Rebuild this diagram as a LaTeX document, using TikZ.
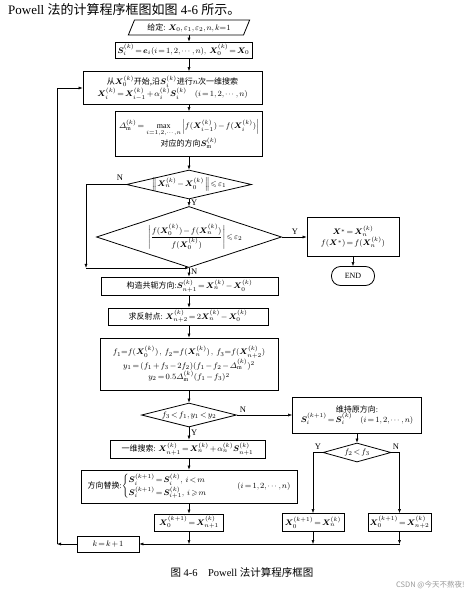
\documentclass[tikz,border=0pt]{standalone}
\usepackage{amsmath,amssymb,bm}
\usepackage{fontspec}
\setmainfont{Liberation Serif}
\newfontfamily\cjk{Noto Sans CJK SC}
\usetikzlibrary{arrows.meta,shapes.geometric}
\newcommand{\zh}[1]{{\cjk #1}}
\newcommand{\Xv}{\bm{X}}
\newcommand{\Sv}{\bm{S}}
\newcommand{\Dm}{\varDelta_{\mathrm{m}}}
\newcommand{\boxfont}{\fontsize{8}{10}\selectfont\thickmuskip=2.5mu plus 1mu\medmuskip=2mu\thinmuskip=2mu}
\tikzset{
  box/.style={draw, line width=0.8pt, inner sep=1pt, align=center, font=\boxfont},
  dia/.style={diamond, draw, line width=0.8pt, inner sep=0pt},
  every label/.append style={font=\boxfont, inner sep=0pt},
  arr/.style={-{Latex[length=4pt,width=3pt]}, line width=0.5pt},
  yn/.style={font=\fontsize{8.5}{9}\selectfont, inner sep=0pt},
}
\begin{document}
\begin{tikzpicture}[x=1pt,y=-1pt]
\useasboundingbox[fill=white] (0,0) rectangle (474,594);
\node[anchor=west, font=\fontsize{13}{15}\selectfont, inner sep=0pt] (title) at (8,10)
  {Powell \zh{法的计算程序框图如图} 4-6 \zh{所示。}};

\node[box, trapezium, trapezium left angle=65, trapezium right angle=115, trapezium stretches=true,
  minimum width=122pt, minimum height=15pt] (give) at (189,27.5)
  {\zh{给定}: $\Xv_0,\varepsilon_1,\varepsilon_2,n,k{=}1$};
\node[box, minimum width=137pt, minimum height=16pt] (b2) at (183.5,50)
  {$\Sv_i^{(k)}=\bm{e}_i(i=1,2,\cdots,n),\ \Xv_0^{(k)}=\Xv_0$};
\node[box, minimum width=179pt, minimum height=33pt] (b3) at (172.5,88)
  {\zh{从}$\Xv_0^{(k)}$\zh{开始,沿}$\Sv_i^{(k)}$\zh{进行}$n$\zh{次一维搜索}\\
   $\Xv_i^{(k)}=\Xv_{i-1}^{(k)}+\alpha_i^{(k)}\Sv_i^{(k)}\quad(i=1,2,\cdots,n)$};
\node[box, minimum width=147pt, minimum height=45pt] (b4) at (189,134)
  {$\Dm^{(k)}=\,\max\limits_{i=1,2,\cdots,n}\left|f(\Xv_{i-1}^{(k)})-f(\Xv_i^{(k)})\right|$\\[1pt]
   \zh{对应的方向}$\Sv_{\mathrm{m}}^{(k)}$};
\node[dia, minimum width=125pt, minimum height=29pt,
  label={center:{$\left\|\,\Xv_n^{(k)}-\Xv_0^{(k)}\,\right\|\leqslant\varepsilon_1$}}] (d1) at (189,184.5) {};
\node[dia, minimum width=185pt, minimum height=61pt,
  label={[xshift=6pt]center:{$\left|\dfrac{f(\Xv_0^{(k)})-f(\Xv_n^{(k)})}{f(\Xv_0^{(k)})}\right|\leqslant\varepsilon_2$}}] (d2) at (189,237) {};
\node[box, minimum width=92pt, minimum height=39pt] (bx) at (353,237)
  {$\Xv^*=\Xv_n^{(k)}$\\ $f(\Xv^*)=f(\Xv_n^{(k)})$};
\node[box, rounded corners=9pt, minimum width=43pt, minimum height=19pt] (end) at (353,276) {END};
\node[box, minimum width=177pt, minimum height=18pt] (b5) at (189.5,286)
  {\zh{构造共轭方向}:$\Sv_{n+1}^{(k)}=\Xv_n^{(k)}-\Xv_0^{(k)}$};
\node[box, minimum width=160pt, minimum height=17pt] (b6) at (188,316.5)
  {\zh{求反射点}: $\Xv_{n+2}^{(k)}=2\Xv_n^{(k)}-\Xv_0^{(k)}$};
\node[box, minimum width=178pt, minimum height=52pt] (b7) at (189,364)
  {$f_1{=}f(\Xv_0^{(k)})\,,\ f_2{=}f(\Xv_n^{(k)})\,,\ f_3{=}f(\Xv_{n+2}^{(k)})$\\
   $y_1=(f_1+f_3-2f_2)(f_1-f_2-\Dm^{(k)})^2$\\
   $y_2=0.5\Dm^{(k)}(f_1-f_3)^2$};
\node[dia, minimum width=95pt, minimum height=24pt,
  label={center:{$f_3<f_1,y_1<y_2$}}] (d3) at (189,415) {};
\node[box, minimum width=129pt, minimum height=36pt] (bk) at (357,415)
  {\zh{维持原方向}:\\ $\Sv_i^{(k+1)}=\Sv_i^{(k)}\quad(i=1,2,\cdots,n)$};
\node[dia, minimum width=68pt, minimum height=19pt,
  label={center:{$f_2<f_3$}}] (d4) at (357,452.5) {};
\node[box, minimum width=155pt, minimum height=18pt] (b8) at (187.5,449)
  {\zh{一维搜索}: $\Xv_{n+1}^{(k)}=\Xv_n^{(k)}+\alpha_n^{(k)}\Sv_{n+1}^{(k)}$};
\node[box, minimum width=216pt, minimum height=33pt] (b9) at (189,486.5)
  {\zh{方向替换}:$\begin{cases}\Sv_i^{(k+1)}=\Sv_i^{(k)},\ i<m\\ \Sv_i^{(k+1)}=\Sv_{i+1}^{(k)},\ i\geqslant m\end{cases}$\hspace{22pt}$(i=1,2,\cdots,n)$};
\node[box, minimum width=69pt, minimum height=17pt] (b10) at (189,522.5)
  {$\Xv_0^{(k+1)}=\Xv_{n+1}^{(k)}$};
\node[box, minimum width=62pt, minimum height=18pt] (b11) at (313,522.5)
  {$\Xv_0^{(k+1)}=\Xv_n^{(k)}$};
\node[box, minimum width=63pt, minimum height=18pt] (b12) at (399.5,522.5)
  {$\Xv_0^{(k+1)}=\Xv_{n+2}^{(k)}$};
\node[box, minimum width=62pt, minimum height=16pt] (kk) at (108,544) {$k=k+1$};

\node[font=\fontsize{10.5}{12}\selectfont] (cap) at (242,572)
  {\zh{图} 4-6\quad Powell \zh{法计算程序框图}};
\node[anchor=east, text=black!40, font=\fontsize{7.5}{9}\selectfont\cjk] (wm) at (468,585)
  {CSDN @今天不熬夜!};

% connectors
\coordinate (ax) at (189,0);
\draw[arr] (give.south) -- (give.south |- b2.north);
\draw[arr] (ax |- b2.south) -- (ax |- b3.north);
\draw[arr] (ax |- b3.south) -- (b4.north);
\draw[arr] (b4.south) -- (d1.north);
\draw[arr] (d1.south) -- (d2.north);
\node[yn, anchor=west] (y1) at (191,203) {Y};
\coordinate (nl) at (86,0);
\draw[arr] (d1.west) -| (nl |- d2.south);
\draw[arr] (nl |- d2.south) -- (d2.south);
\node[yn, anchor=south] (n1) at (120,181) {N};
\draw[arr] (d2.east) -- (bx.west);
\node[yn, anchor=south] (y2) at (295,235) {Y};
\draw[arr] (bx.south) -- (end.north);
\draw[arr] (d2.south) -- (ax |- b5.north);
\node[yn, anchor=west] (n2) at (191,272) {N};
\draw[arr] (ax |- b5.south) -- (ax |- b6.north);
\draw[arr] (ax |- b6.south) -- (ax |- b7.north);
\draw[arr] (ax |- b7.south) -- (d3.north);
\draw[arr] (d3.east) -- (bk.west);
\node[yn, anchor=south] (n3) at (243,413) {N};
\draw[arr] (d3.south) -- (ax |- b8.north);
\node[yn, anchor=west] (y3) at (191,433) {Y};
\draw[arr] (bk.south) -- (d4.north);
\draw[arr] (d4.west) -| (b11.north);
\node[yn, anchor=south] (y4) at (318,450) {Y};
\draw[arr] (d4.east) -| (b12.north);
\node[yn, anchor=south] (n4) at (396,450) {N};
\draw[arr] (ax |- b8.south) -- (ax |- b9.north);
\draw[arr] (ax |- b9.south) -- (b10.north);
\coordinate (bl) at (0,544);
\draw[arr] (b10.south) -- (b10.south |- bl);
\draw[arr] (b11.south) -- (b11.south |- bl);
\draw[arr] (b12.south) -- (b12.south |- bl);
\draw[arr] (b12.south |- bl) -- (kk.east);
\coordinate (lc) at (57,544);
\draw[arr] (kk.west) -- (lc);
\draw[arr] (lc) |- (b3.west);
\end{tikzpicture}
\end{document}
